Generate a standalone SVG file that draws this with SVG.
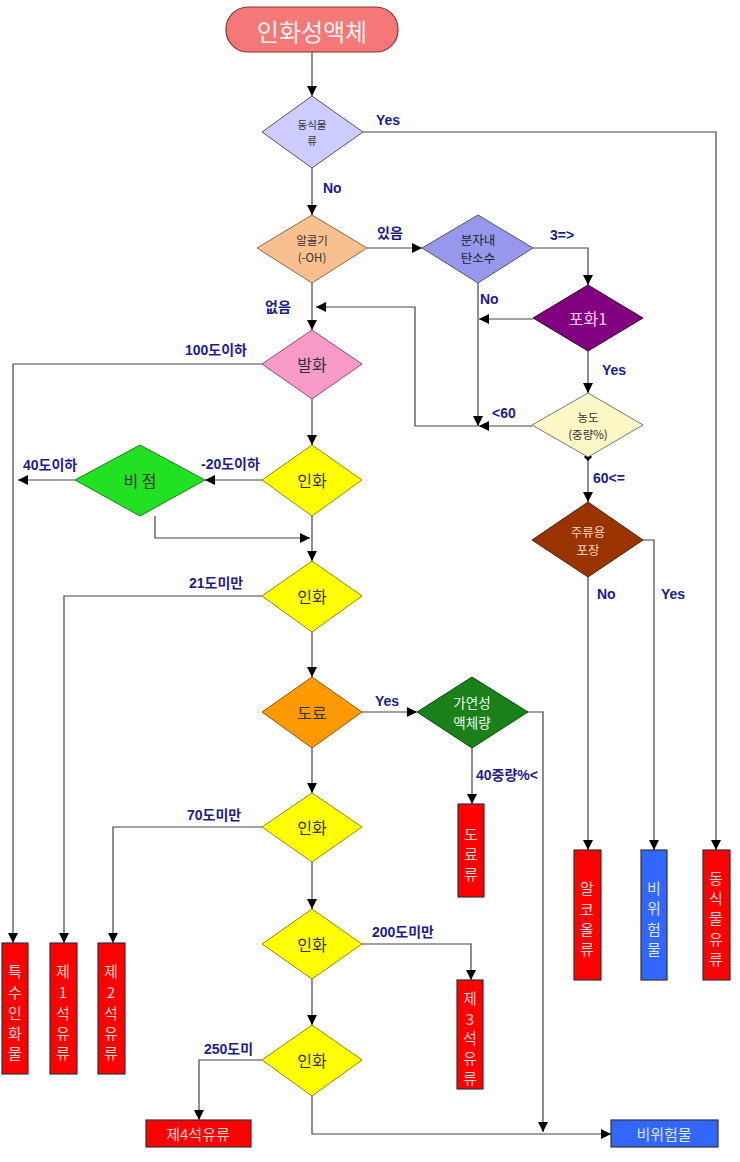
<svg xmlns="http://www.w3.org/2000/svg" width="740" height="1162" viewBox="0 0 740 1162">
<defs>
<marker id="ah" viewBox="0 0 10 10" refX="10" refY="5" markerWidth="10" markerHeight="10" markerUnits="userSpaceOnUse" orient="auto">
<path d="M0,0 L10,5 L0,10 z" fill="#000"/>
</marker>
<marker id="dot" viewBox="0 0 8 8" refX="4" refY="4" markerWidth="8" markerHeight="8" markerUnits="userSpaceOnUse" orient="auto">
<path d="M0,4 L4,0 L8,4 L4,8 z" fill="#000"/>
</marker>
</defs>
<style>
text{font-family:"Noto Sans CJK KR","Liberation Sans",sans-serif;text-anchor:middle;dominant-baseline:central}
.c{fill:none;stroke:#444;stroke-width:1.2}
.a{marker-end:url(#ah)}
.lbl{font-family:"Liberation Sans","Noto Sans CJK KR",sans-serif;font-weight:bold;font-size:14px;fill:#1c1c8c;text-anchor:start}
.box{stroke:#333;stroke-width:1.2}
.red{fill:#ff0000}
.blue{fill:#3366ff}
.vt{font-size:15px;fill:#ffd6d6}
.bt{font-size:15px;fill:#dde6ff}
.yel{fill:#ffff00;stroke:#8a8a00;stroke-width:1}
.yt{font-size:16px;fill:#333}
</style>
<rect width="740" height="1162" fill="#fff"/>

<g id="connectors">
<path class="c a" d="M312,52 V96"/>
<path class="c a" d="M363,132 H716 V850"/>
<path class="c a" d="M312,168 V215"/>
<path class="c a" d="M367,248 H422"/>
<path class="c a" d="M533,248 H588 V285"/>
<path class="c a" d="M478,283 V426"/>
<path class="c a" d="M533,319 H479"/>
<path class="c a" d="M588,351 V393"/>
<path class="c a" d="M532,426 H479"/>
<path class="c a" d="M479,426 H415 V307 H316"/>
<path class="c a" d="M312,283 V330"/>
<path class="c a" d="M588,457 V502" style="marker-start:url(#dot)"/>
<path class="c a" d="M588,577 V850"/>
<path class="c a" d="M643,540 H654 V850"/>
<path class="c a" d="M262,364 H13 V943"/>
<path class="c a" d="M312,399 V445"/>
<path class="c a" d="M262,480 H205"/>
<path class="c a" d="M75,480 H18"/>
<path class="c a" d="M155,516 V538 H310"/>
<path class="c a" d="M312,516 V561"/>
<path class="c a" d="M262,596 H64 V943"/>
<path class="c a" d="M312,632 V677"/>
<path class="c a" d="M362,712 H417"/>
<path class="c a" d="M472,748 V804"/>
<path class="c a" d="M528,712 H543 V1132"/>
<path class="c a" d="M312,748 V793"/>
<path class="c a" d="M262,827 H113 V943"/>
<path class="c a" d="M312,862 V909"/>
<path class="c a" d="M362,944 H471 V980"/>
<path class="c a" d="M312,979 V1025"/>
<path class="c a" d="M262,1060 H199 V1120"/>
<path class="c a" d="M312,1096 V1134 H611"/>
<text class="lbl" x="376" y="120">Yes</text>
<text class="lbl" x="323" y="188">No</text>
<text class="lbl" x="377" y="233">있음</text>
<text class="lbl" x="550" y="235">3=&gt;</text>
<text class="lbl" x="480" y="299">No</text>
<text class="lbl" x="265" y="307">없음</text>
<text class="lbl" x="602" y="370">Yes</text>
<text class="lbl" x="492" y="413">&lt;60</text>
<text class="lbl" x="593" y="478">60&lt;=</text>
<text class="lbl" x="597" y="594">No</text>
<text class="lbl" x="661" y="594">Yes</text>
<text class="lbl" x="185" y="350">100도이하</text>
<text class="lbl" x="201" y="464">-20도이하</text>
<text class="lbl" x="23" y="465">40도이하</text>
<text class="lbl" x="189" y="583">21도미만</text>
<text class="lbl" x="375" y="701">Yes</text>
<text class="lbl" x="476" y="775">40중량%&lt;</text>
<text class="lbl" x="187" y="815">70도미만</text>
<text class="lbl" x="372" y="932">200도미만</text>
<text class="lbl" x="204" y="1049">250도미</text>
</g>

<g id="start">
<rect x="226" y="7" width="172" height="45" rx="22" ry="22" fill="#f47878" stroke="#8a3030" stroke-width="1.2"/>
<text x="312" y="30" font-size="24" fill="#fff0f0">인화성액체</text>
</g>

<g id="d-dongsik">
<path d="M312,96 L363,132 L312,168 L262,132 z" fill="#ccccff" stroke="#555" stroke-width="1"/>
<text font-size="10.5" fill="#333"><tspan x="312" y="124">동식물</tspan><tspan x="312" y="139.5">류</tspan></text>
</g>

<g id="d-alcohol">
<path d="M312,215 L367,248 L312,283 L257,248 z" fill="#f9c08f" stroke="#8a6a40" stroke-width="1"/>
<text font-size="11.5" fill="#333"><tspan x="312" y="239.5">알콜기</tspan><tspan x="312" y="256.5">(-OH)</tspan></text>
</g>

<g id="d-carbon">
<path d="M478,215 L533,248 L478,283 L422,248 z" fill="#9797ee" stroke="#555" stroke-width="1"/>
<text font-size="12.5" fill="#222"><tspan x="478" y="238.5">분자내</tspan><tspan x="478" y="257">탄소수</tspan></text>
</g>

<g id="d-saturation">
<path d="M588,285 L643,318 L588,351 L533,318 z" fill="#800080" stroke="#400040" stroke-width="1"/>
<text x="588" y="318" font-size="16" fill="#ffccee">포화1</text>
</g>

<g id="d-conc">
<path d="M588,393 L643,425 L588,457 L532,425 z" fill="#fcf8c6" stroke="#777" stroke-width="1"/>
<text font-size="11.5" fill="#333"><tspan x="588" y="417">농도</tspan><tspan x="588" y="434">(중량%)</tspan></text>
</g>

<g id="d-liquor">
<path d="M588,502 L643,540 L588,577 L532,540 z" fill="#993300" stroke="#552200" stroke-width="1"/>
<text font-size="12.5" fill="#ffd8c0"><tspan x="588" y="530.5">주류용</tspan><tspan x="588" y="549">포장</tspan></text>
</g>

<g id="d-ignition">
<path d="M312,330 L362,364 L312,399 L262,364 z" fill="#f79ac8" stroke="#8a5070" stroke-width="1"/>
<text x="312" y="364" font-size="16" fill="#333">발화</text>
</g>

<g id="d-flash1">
<path class="yel" d="M312,445 L362,480 L312,516 L262,480 z"/>
<text class="yt" x="312" y="480">인화</text>
</g>

<g id="d-boiling">
<path d="M140,445 L205,480 L140,516 L75,480 z" fill="#22e022" stroke="#1a7a1a" stroke-width="1"/>
<text x="140" y="480" font-size="16" fill="#333">비 점</text>
</g>

<g id="d-flash2">
<path class="yel" d="M312,561 L362,596 L312,632 L262,596 z"/>
<text class="yt" x="312" y="596">인화</text>
</g>

<g id="d-paint">
<path d="M312,677 L362,712 L312,748 L262,712 z" fill="#ff9900" stroke="#8a5500" stroke-width="1"/>
<text x="312" y="712" font-size="16" fill="#333">도료</text>
</g>

<g id="d-combust">
<path d="M472,677 L528,712 L472,748 L417,712 z" fill="#1a801a" stroke="#0d4d0d" stroke-width="1"/>
<text font-size="13.5" fill="#e8ffe8"><tspan x="472" y="702">가연성</tspan><tspan x="472" y="721.6">액체량</tspan></text>
</g>

<g id="d-flash3">
<path class="yel" d="M312,793 L362,827 L312,862 L262,827 z"/>
<text class="yt" x="312" y="827">인화</text>
</g>

<g id="d-flash4">
<path class="yel" d="M312,909 L362,944 L312,979 L262,944 z"/>
<text class="yt" x="312" y="944">인화</text>
</g>

<g id="d-flash5">
<path class="yel" d="M312,1025 L362,1060 L312,1096 L262,1060 z"/>
<text class="yt" x="312" y="1060">인화</text>
</g>

<g id="b-special">
<rect class="box red" x="2" y="943" width="26" height="131"/>
<text class="vt"><tspan x="15" y="970">특</tspan><tspan x="15" y="991">수</tspan><tspan x="15" y="1012">인</tspan><tspan x="15" y="1032">화</tspan><tspan x="15" y="1052">물</tspan></text>
</g>

<g id="b-pet1">
<rect class="box red" x="50" y="943" width="27" height="131"/>
<text class="vt"><tspan x="63" y="970">제</tspan><tspan x="63" y="991">1</tspan><tspan x="63" y="1012">석</tspan><tspan x="63" y="1032">유</tspan><tspan x="63" y="1052">류</tspan></text>
</g>

<g id="b-pet2">
<rect class="box red" x="98" y="943" width="27" height="131"/>
<text class="vt"><tspan x="111" y="970">제</tspan><tspan x="111" y="991">2</tspan><tspan x="111" y="1012">석</tspan><tspan x="111" y="1032">유</tspan><tspan x="111" y="1052">류</tspan></text>
</g>

<g id="b-paint">
<rect class="box red" x="458" y="804" width="26" height="93"/>
<text class="vt"><tspan x="471" y="833">도</tspan><tspan x="471" y="853">료</tspan><tspan x="471" y="873">류</tspan></text>
</g>

<g id="b-pet3">
<rect class="box red" x="457" y="980" width="26" height="109"/>
<text class="vt"><tspan x="470" y="997">제</tspan><tspan x="470" y="1018">3</tspan><tspan x="470" y="1037">석</tspan><tspan x="470" y="1057">유</tspan><tspan x="470" y="1077">류</tspan></text>
</g>

<g id="b-pet4">
<rect class="box red" x="146" y="1120" width="105" height="27"/>
<text x="198" y="1133" font-size="15" fill="#ffd6d6">제4석유류</text>
</g>

<g id="b-nonhaz-bottom">
<rect class="box blue" x="611" y="1120" width="107" height="27"/>
<text x="664" y="1133" font-size="15" fill="#dde6ff">비위험물</text>
</g>

<g id="b-alcohol">
<rect class="box red" x="574" y="850" width="27" height="130"/>
<text class="vt"><tspan x="587" y="887">알</tspan><tspan x="587" y="908">코</tspan><tspan x="587" y="928">올</tspan><tspan x="587" y="948">류</tspan></text>
</g>

<g id="b-nonhaz-right">
<rect class="box blue" x="641" y="850" width="26" height="130"/>
<text class="bt"><tspan x="654" y="887">비</tspan><tspan x="654" y="907">위</tspan><tspan x="654" y="928">험</tspan><tspan x="654" y="948">물</tspan></text>
</g>

<g id="b-animal">
<rect class="box red" x="703" y="850" width="27" height="130"/>
<text class="vt"><tspan x="716" y="877">동</tspan><tspan x="716" y="897">식</tspan><tspan x="716" y="917">물</tspan><tspan x="716" y="938">유</tspan><tspan x="716" y="958">류</tspan></text>
</g>
</svg>
